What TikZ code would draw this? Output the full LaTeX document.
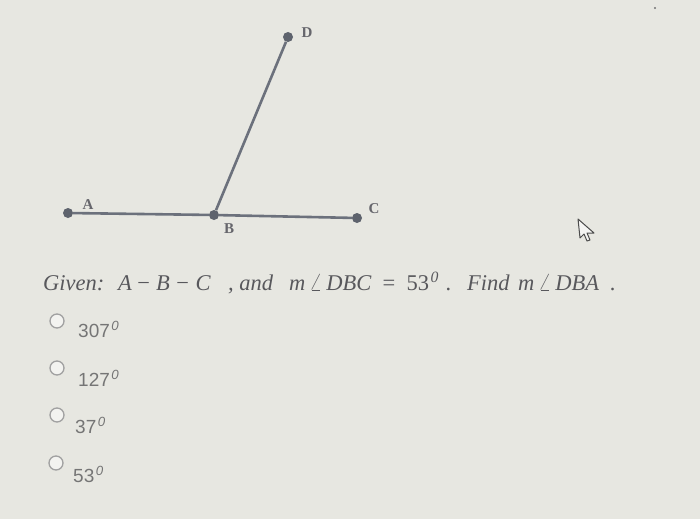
\documentclass[tikz,border=0pt]{standalone}
\usepackage{fontspec}
\setmainfont{Liberation Serif}
\setsansfont{Liberation Sans}
\definecolor{bg}{HTML}{E7E7E1}
\definecolor{ln}{HTML}{6C717C}
\definecolor{pt}{HTML}{5E636D}
\definecolor{lbl}{HTML}{66666C}
\definecolor{txt}{HTML}{58585C}
\definecolor{opt}{HTML}{8A8A8A}
\tikzset{
  seg/.style={draw=ln, line width=2.6pt},
  dotpt/.style={circle, fill=pt, inner sep=0pt, minimum size=10pt},
  ptlabel/.style={font=\fontsize{15}{15}\selectfont\bfseries, text=lbl, inner sep=0pt},
  qtext/.style={font=\fontsize{22.5}{23}\selectfont\itshape, text=txt, inner sep=0pt, anchor=base west},
  radio/.style={circle, draw=opt!80, line width=1.3pt, fill=bg!50!white, minimum size=14pt, inner sep=0pt},
  otext/.style={font=\sffamily\fontsize{19}{19}\selectfont, text=opt!85!black, inner sep=0pt, anchor=base west},
}
\newcommand{\degsup}{\textsuperscript{\kern1.5pt\textit{0}}}
\newcommand{\angsym}{{\fontsize{24}{24}\selectfont$\angle$}}
\begin{document}
\begin{tikzpicture}[x=1pt,y=-1pt]
\fill[bg] (0,0) rectangle (700,519);
\useasboundingbox (0,0) rectangle (700,519);
% points
\node[dotpt] (A) at (68,213) {};
\node[dotpt] (B) at (214,215) {};
\node[dotpt] (C) at (357,218) {};
\node[dotpt] (D) at (288,37) {};
\draw[seg] (A) -- (B);
\draw[seg] (B) -- (C);
\draw[seg] (B) -- (D);
\node[ptlabel] (lA) at (88,205) {A};
\node[ptlabel] (lB) at (229,229) {B};
\node[ptlabel] (lC) at (374,209) {C};
\node[ptlabel] (lD) at (307,33) {D};
% question
\node[qtext] (q1) at (43,290) {Given:};
\node[qtext] (q2) at (118,290) {A\kern4pt−\kern5pt B\kern5pt−\kern5.5pt C};
\node[qtext] (q3) at (228,290) {, and};
\node[qtext] (q4) at (289,290) {m\,\angsym\,DBC\ \ \upshape{}=\ \ 53\degsup};
\node[qtext] (q5) at (446,290) {.};
\node[qtext] (q5b) at (467,290) {Find};
\node[qtext] (q6) at (518,290) {m\,\angsym\,DBA\ \ .};
% options
\node[radio] (r1) at (57,321) {};
\node[otext] (o1) at (78,337) {307\degsup};
\node[radio] (r2) at (57,368) {};
\node[otext] (o2) at (78,386) {127\degsup};
\node[radio] (r3) at (57,415) {};
\node[otext] (o3) at (75,433) {37\degsup};
\node[radio] (r4) at (56,463) {};
\node[otext] (o4) at (73,482) {53\degsup};
% cursor
\draw[line width=1pt, draw=black!70, fill=bg!40!white, line join=round]
  (578,219) -- (580,238) -- (584,234) -- (587,241) -- (590,240) -- (587,233) -- (594,233) -- cycle;
\fill[black!55] (655,8) circle (1.2pt);
\end{tikzpicture}
\end{document}
